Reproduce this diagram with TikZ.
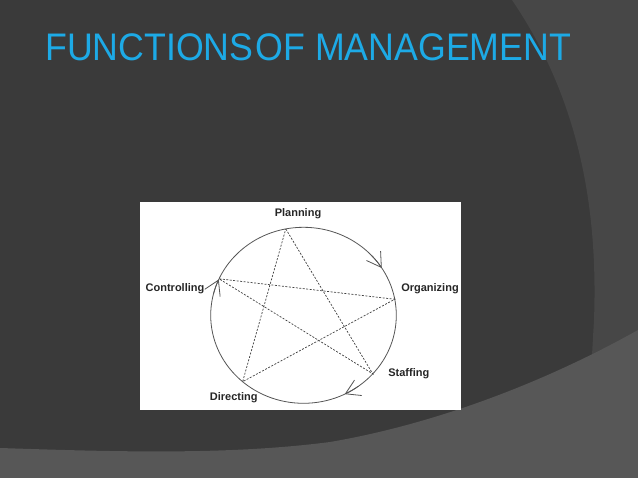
\documentclass[tikz,border=0pt]{standalone}
\usepackage{fontspec}
\usepackage{graphicx}
\setmainfont{Liberation Sans}
\usetikzlibrary{arrows.meta}

\definecolor{slatebg}{HTML}{3A3A3A}
\definecolor{slateside}{HTML}{474747}
\definecolor{slateband}{HTML}{575757}
\definecolor{titleblue}{HTML}{1DAAE6}
\definecolor{ringgray}{HTML}{555555}

\tikzset{
  ring/.style={draw=ringgray, line width=0.8pt},
  starline/.style={draw=black!75, line width=0.7pt, dash pattern=on 2pt off 1.5pt},
  fnlabel/.style={font=\bfseries\fontsize{11}{12}\selectfont, text=black!85, inner sep=0pt},
  flow/.style={ring, -{Straight Barb[length=14pt,width=17pt]}}
}

\begin{document}
\begin{tikzpicture}[x=1pt,y=-1pt]
    \useasboundingbox (0,0) rectangle (638,478);

    % slide background
    \fill[slatebg] (0,0) rectangle (638,478);
    \fill[slateside] (512,0) .. controls (580,100) and (598,210) .. (594,320) -- (585,478) -- (638,478) -- (638,0) -- cycle;
    \fill[slateband] (0,448) .. controls (120,452) and (230,455) .. (330,442) .. controls (430,425) and (540,385) .. (638,330) -- (638,478) -- (0,478) -- cycle;

    \node[anchor=base west, inner sep=0pt, text=titleblue, font=\fontsize{38.4}{40}\selectfont] (title) at (45,61) {\scalebox{0.93}[1]{FUNCTIONS\hspace{0.06em}OF MANAGEMENT}};

    % picture of the cycle
    \fill[white] (140,202) rectangle (461,410);

    \coordinate (ctr) at (303.5,315.3);
    \draw[ring] (ctr) ellipse [x radius=92.8, y radius=88];

    \foreach \name/\ang in {plan/259, org/-10.5, staff/41.7, dir/131, ctrl/204.5}
        \path (ctr) ++(\ang:92.8 and 88) coordinate (\name);

    \draw[starline] (plan) -- (staff) -- (ctrl) -- (org) -- (dir) -- cycle;

    \foreach \ang in {-32.5, 63.6, 204}
        \draw[flow] (ctr) ++(\ang-10:92.8 and 88) arc[start angle=\ang-10, end angle=\ang, x radius=92.8, y radius=88];

    \node[fnlabel] (planlbl) at (298,214) {Planning};
    \node[fnlabel] (orglbl) at (430,288.3) {Organizing};
    \node[fnlabel] (ctrllbl) at (175,288.3) {Controlling};
    \node[fnlabel] (stafflbl) at (408.8,373.3) {Staffing};
    \node[fnlabel] (dirlbl) at (233.8,397.3) {Directing};

\end{tikzpicture}
\end{document}
